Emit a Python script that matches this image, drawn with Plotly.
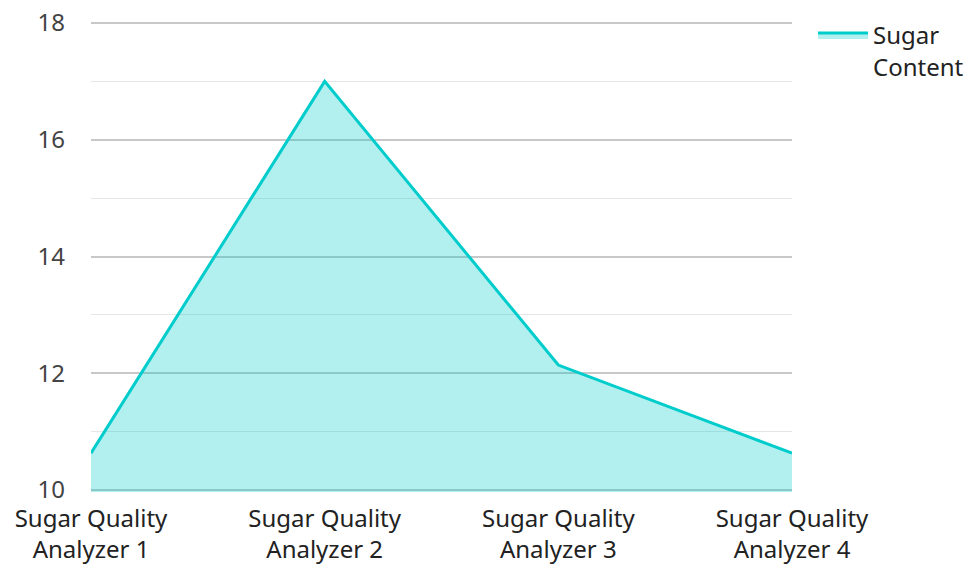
import plotly.graph_objects as go

categories = ["Sugar Quality<br>Analyzer 1", "Sugar Quality<br>Analyzer 2",
              "Sugar Quality<br>Analyzer 3", "Sugar Quality<br>Analyzer 4"]
sugar_content = [10.63, 17.0, 12.14, 10.63]
y_ticks = [10, 12, 14, 16, 18]

fig = go.Figure()
fig.add_trace(go.Scatter(
    x=categories, y=sugar_content, name="Sugar<br>Content",
    mode="lines", fill="tozeroy",
    line=dict(color="#00CCCC", width=3),
    fillcolor="rgba(0,204,204,0.3)",
))

fig.update_layout(
    width=974, height=564,
    margin=dict(l=83, r=190, t=13, b=80, autoexpand=False),
    paper_bgcolor="white", plot_bgcolor="white",
    font=dict(family="Noto Sans", size=24, color="#444"),
    showlegend=True,
    legend=dict(x=1.03, y=1.017, xanchor="left", yanchor="top",
                itemwidth=50, valign="top",
                font=dict(size=24, color="#222"), tracegroupgap=0),
    xaxis=dict(range=[0, 3], showgrid=False, zeroline=False, showline=False,
               automargin=False, ticklabeloverflow="allow",
               ticks="", ticklabelstandoff=10, tickfont=dict(size=24, color="#222")),
    yaxis=dict(range=[9.965, 18.035], tickvals=y_ticks, showgrid=True,
               automargin=False, ticklabeloverflow="allow",
               gridcolor="#c8c8c8", gridwidth=1.5, zeroline=False,
               showline=False, ticks="", ticklen=0, ticklabelstandoff=25,
               tickfont=dict(size=24, color="#444"),
               minor=dict(dtick=1, showgrid=True, gridcolor="#e6e6e6", gridwidth=1)),
)

fig.write_html("out.html")
